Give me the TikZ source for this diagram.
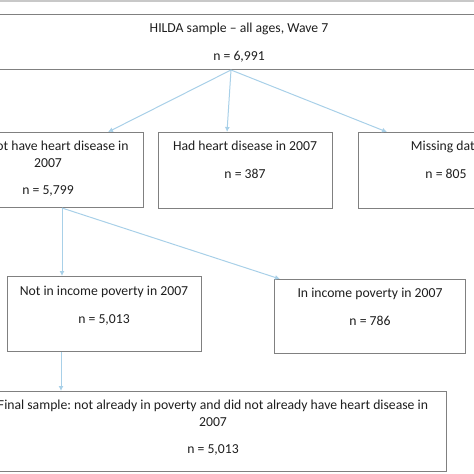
\documentclass[tikz,border=0pt]{standalone}
\usepackage{fontspec}
\setmainfont{Carlito}
\usepackage{tikz}
\usetikzlibrary{arrows.meta,positioning}
\definecolor{boxgray}{RGB}{128,128,128}
\definecolor{flowblue}{RGB}{168,208,232}
\definecolor{bandgray}{RGB}{200,200,200}
\definecolor{inkgray}{RGB}{30,30,30}
\frenchspacing

\begin{document}
\begin{tikzpicture}[x=1pt,y=-1pt,
    stage/.style={draw=boxgray,line width=1pt,inner xsep=4pt,inner ysep=0pt,text height=18pt,align=flush center,anchor=north,text=inkgray,font=\fontsize{13.7}{17}\selectfont},
    flow/.style={draw=flowblue,line width=1pt,-{Latex[length=5pt,width=5pt]}}]
    \path[use as bounding box,clip] (0,0) rectangle (474,474);
    \draw[bandgray,line width=2.5pt] (0,1) -- (474,1);
    \node[stage,text width=512pt,text depth=37.5pt] (sample) at (239,13.5) {HILDA sample -- all ages, Wave 7\\[11pt]n = 6,991};
    \node[stage,text width=182pt,text depth=57pt] (noheart) at (48,132) {Did not have heart disease in\\2007\\[10pt]n = 5,799};
    \node[stage,text width=166pt,text depth=58pt] (heart) at (245,132) {Had heart disease in 2007\\[11pt]n = 387};
    \node[stage,text width=168pt,text depth=58pt] (missing) at (446,132) {Missing data\\[11pt]n = 805};
    \node[stage,text width=186pt,text depth=56pt,text height=19pt] (nopov) at (104,276) {Not in income poverty in 2007\\[11pt]n = 5,013};
    \node[stage,text width=183pt,text depth=56pt] (pov) at (370,279) {In income poverty in 2007\\[11pt]n = 786};
    \node[stage,text width=458pt,text depth=62pt] (final) at (213,391) {Final sample: not already in poverty and did not already have heart disease in\\2007\\[10pt]n = 5,013};
    \draw[flow] ([xshift=-8pt]sample.south) -- ([xshift=60pt]noheart.north);
    \draw[flow] ([xshift=-8pt]sample.south) -- ([xshift=-18pt]heart.north);
    \draw[flow] ([xshift=-8pt]sample.south) -- ([xshift=-59pt]missing.north);
    \draw[flow] ([xshift=14pt]noheart.south) -- ([xshift=-42pt]nopov.north);
    \draw[flow] ([xshift=14pt]noheart.south) -- ([xshift=-90pt]pov.north);
    \draw[flow] ([xshift=-43pt]nopov.south) -- ([xshift=-152pt]final.north);
\end{tikzpicture}
\end{document}
